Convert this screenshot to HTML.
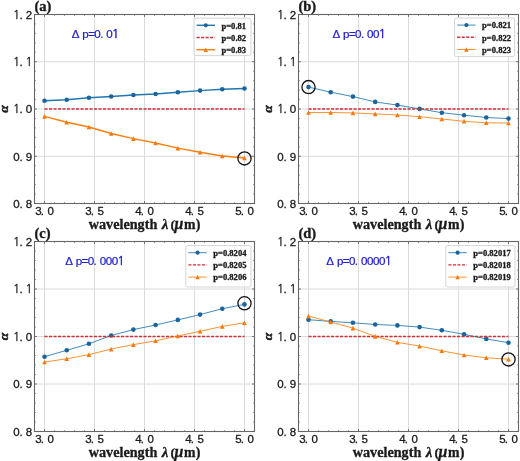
<!DOCTYPE html>
<html><head><meta charset="utf-8"><title>Figure</title>
<style>html,body{margin:0;padding:0;background:#fff;}svg{display:block;}</style>
</head><body>
<svg width="520" height="461" viewBox="0 0 520 461"><rect width="520" height="461" fill="#fff"/><g>
<path d="M44.50 14.50V203.50M94.50 14.50V203.50M144.50 14.50V203.50M194.50 14.50V203.50M244.50 14.50V203.50M34.50 156.25H254.50M34.50 109.00H254.50M34.50 61.75H254.50" stroke="#dadada" stroke-width="1" fill="none"/>
<polyline points="44.50,100.70 66.72,99.70 88.94,97.80 111.17,96.50 133.39,95.00 155.61,94.00 177.83,92.30 200.06,90.60 222.28,89.30 244.50,88.50" stroke="#1f77b4" stroke-width="1.45" fill="none" stroke-linejoin="round"/>
<g fill="#1c659c"><circle cx="44.50" cy="100.70" r="2.3"/><circle cx="66.72" cy="99.70" r="2.3"/><circle cx="88.94" cy="97.80" r="2.3"/><circle cx="111.17" cy="96.50" r="2.3"/><circle cx="133.39" cy="95.00" r="2.3"/><circle cx="155.61" cy="94.00" r="2.3"/><circle cx="177.83" cy="92.30" r="2.3"/><circle cx="200.06" cy="90.60" r="2.3"/><circle cx="222.28" cy="89.30" r="2.3"/><circle cx="244.50" cy="88.50" r="2.3"/></g>
<path d="M44.50 109.00H244.50" stroke="#d22f3b" stroke-width="1.3" stroke-dasharray="3.1 1.4" fill="none"/>
<polyline points="44.50,116.40 66.72,122.30 88.94,127.00 111.17,133.50 133.39,138.60 155.61,143.00 177.83,148.10 200.06,152.30 222.28,156.00 244.50,158.00" stroke="#ff7f0e" stroke-width="1.45" fill="none" stroke-linejoin="round"/>
<g fill="#f27a10"><path d="M44.50 114.10L42.20 118.70L46.80 118.70Z"/><path d="M66.72 120.00L64.42 124.60L69.02 124.60Z"/><path d="M88.94 124.70L86.64 129.30L91.24 129.30Z"/><path d="M111.17 131.20L108.87 135.80L113.47 135.80Z"/><path d="M133.39 136.30L131.09 140.90L135.69 140.90Z"/><path d="M155.61 140.70L153.31 145.30L157.91 145.30Z"/><path d="M177.83 145.80L175.53 150.40L180.13 150.40Z"/><path d="M200.06 150.00L197.76 154.60L202.36 154.60Z"/><path d="M222.28 153.70L219.98 158.30L224.58 158.30Z"/><path d="M244.50 155.70L242.20 160.30L246.80 160.30Z"/></g>
<circle cx="244.50" cy="158.40" r="6.6" fill="none" stroke="#141414" stroke-width="1.3"/>
<path d="M44.50 203.50v-2.40M44.50 14.50v2.40M94.50 203.50v-2.40M94.50 14.50v2.40M144.50 203.50v-2.40M144.50 14.50v2.40M194.50 203.50v-2.40M194.50 14.50v2.40M244.50 203.50v-2.40M244.50 14.50v2.40M34.50 203.50h2.40M254.50 203.50h-2.40M34.50 156.25h2.40M254.50 156.25h-2.40M34.50 109.00h2.40M254.50 109.00h-2.40M34.50 61.75h2.40M254.50 61.75h-2.40M34.50 14.50h2.40M254.50 14.50h-2.40" stroke="#666666" stroke-width="0.9" fill="none"/>
<path d="M34.50 203.50v-1.50M34.50 14.50v1.50M54.50 203.50v-1.50M54.50 14.50v1.50M64.50 203.50v-1.50M64.50 14.50v1.50M74.50 203.50v-1.50M74.50 14.50v1.50M84.50 203.50v-1.50M84.50 14.50v1.50M104.50 203.50v-1.50M104.50 14.50v1.50M114.50 203.50v-1.50M114.50 14.50v1.50M124.50 203.50v-1.50M124.50 14.50v1.50M134.50 203.50v-1.50M134.50 14.50v1.50M154.50 203.50v-1.50M154.50 14.50v1.50M164.50 203.50v-1.50M164.50 14.50v1.50M174.50 203.50v-1.50M174.50 14.50v1.50M184.50 203.50v-1.50M184.50 14.50v1.50M204.50 203.50v-1.50M204.50 14.50v1.50M214.50 203.50v-1.50M214.50 14.50v1.50M224.50 203.50v-1.50M224.50 14.50v1.50M234.50 203.50v-1.50M234.50 14.50v1.50M254.50 203.50v-1.50M254.50 14.50v1.50M34.50 194.05h1.50M254.50 194.05h-1.50M34.50 184.60h1.50M254.50 184.60h-1.50M34.50 175.15h1.50M254.50 175.15h-1.50M34.50 165.70h1.50M254.50 165.70h-1.50M34.50 146.80h1.50M254.50 146.80h-1.50M34.50 137.35h1.50M254.50 137.35h-1.50M34.50 127.90h1.50M254.50 127.90h-1.50M34.50 118.45h1.50M254.50 118.45h-1.50M34.50 99.55h1.50M254.50 99.55h-1.50M34.50 90.10h1.50M254.50 90.10h-1.50M34.50 80.65h1.50M254.50 80.65h-1.50M34.50 71.20h1.50M254.50 71.20h-1.50M34.50 52.30h1.50M254.50 52.30h-1.50M34.50 42.85h1.50M254.50 42.85h-1.50M34.50 33.40h1.50M254.50 33.40h-1.50M34.50 23.95h1.50M254.50 23.95h-1.50" stroke="#8a8a8a" stroke-width="0.8" fill="none"/>
<rect x="34.50" y="14.50" width="220.00" height="189.00" fill="none" stroke="#666666" stroke-width="1.1"/>
<rect x="194.00" y="18.20" width="57.00" height="37.40" rx="1.8" fill="#ffffff" fill-opacity="0.8" stroke="#d0d0d0" stroke-width="0.9"/>
<path d="M196.60 25.30H215.00" stroke="#1f77b4" stroke-width="1.45"/>
<circle cx="205.80" cy="25.30" r="2.1" fill="#1c659c"/>
<path d="M196.60 37.50H215.00" stroke="#d22f3b" stroke-width="1.4" stroke-dasharray="3.1 1.4"/>
<path d="M196.60 49.70H215.00" stroke="#ff7f0e" stroke-width="1.45"/>
<g fill="#f27a10"><path d="M205.80 47.50L203.60 51.90L208.00 51.90Z"/></g>
<text x="221.50" y="28.60" font-family="'Liberation Serif', 'Times New Roman', serif" font-size="9" font-weight="bold" fill="#1a1a1a" stroke="#1a1a1a" stroke-width="0.32" textLength="24.59" lengthAdjust="spacingAndGlyphs">p=0.81</text>
<text x="221.50" y="40.80" font-family="'Liberation Serif', 'Times New Roman', serif" font-size="9" font-weight="bold" fill="#1a1a1a" stroke="#1a1a1a" stroke-width="0.32" textLength="24.59" lengthAdjust="spacingAndGlyphs">p=0.82</text>
<text x="221.50" y="53.00" font-family="'Liberation Serif', 'Times New Roman', serif" font-size="9" font-weight="bold" fill="#1a1a1a" stroke="#1a1a1a" stroke-width="0.32" textLength="24.59" lengthAdjust="spacingAndGlyphs">p=0.83</text>
<text x="16.55 21.10 28.95" y="207.80" font-family="'Liberation Sans', Arial, sans-serif" font-size="11.5" fill="#1a1a1a" stroke="#1a1a1a" stroke-width="0.3" text-anchor="middle">0.8</text>
<text x="16.55 21.10 28.95" y="160.55" font-family="'Liberation Sans', Arial, sans-serif" font-size="11.5" fill="#1a1a1a" stroke="#1a1a1a" stroke-width="0.3" text-anchor="middle">0.9</text>
<text x="16.55 21.10 28.95" y="113.30" font-family="'Liberation Sans', Arial, sans-serif" font-size="11.5" fill="#1a1a1a" stroke="#1a1a1a" stroke-width="0.3" text-anchor="middle"><tspan font-family="NanumGothic, sans-serif" stroke-width="0.3">1</tspan>.0</text>
<text x="16.55 21.10 28.95" y="66.05" font-family="'Liberation Sans', Arial, sans-serif" font-size="11.5" fill="#1a1a1a" stroke="#1a1a1a" stroke-width="0.3" text-anchor="middle"><tspan font-family="NanumGothic, sans-serif" stroke-width="0.3">1</tspan>.<tspan font-family="NanumGothic, sans-serif" stroke-width="0.3">1</tspan></text>
<text x="16.55 21.10 28.95" y="18.80" font-family="'Liberation Sans', Arial, sans-serif" font-size="11.5" fill="#1a1a1a" stroke="#1a1a1a" stroke-width="0.3" text-anchor="middle"><tspan font-family="NanumGothic, sans-serif" stroke-width="0.3">1</tspan>.2</text>
<text x="38.40 42.45 50.60" y="214.70" font-family="'Liberation Sans', Arial, sans-serif" font-size="11.5" fill="#1a1a1a" stroke="#1a1a1a" stroke-width="0.3" text-anchor="middle">3.0</text>
<text x="88.40 92.45 100.60" y="214.70" font-family="'Liberation Sans', Arial, sans-serif" font-size="11.5" fill="#1a1a1a" stroke="#1a1a1a" stroke-width="0.3" text-anchor="middle">3.5</text>
<text x="138.40 142.45 150.60" y="214.70" font-family="'Liberation Sans', Arial, sans-serif" font-size="11.5" fill="#1a1a1a" stroke="#1a1a1a" stroke-width="0.3" text-anchor="middle">4.0</text>
<text x="188.40 192.45 200.60" y="214.70" font-family="'Liberation Sans', Arial, sans-serif" font-size="11.5" fill="#1a1a1a" stroke="#1a1a1a" stroke-width="0.3" text-anchor="middle">4.5</text>
<text x="238.40 242.45 250.60" y="214.70" font-family="'Liberation Sans', Arial, sans-serif" font-size="11.5" fill="#1a1a1a" stroke="#1a1a1a" stroke-width="0.3" text-anchor="middle">5.0</text>
<text x="75.60 85.55 91.55 97.55 101.75 109.55 115.55" y="37.80" font-family="'Liberation Sans', Arial, sans-serif" font-size="11.6" fill="#2020cc" stroke="#2020cc" stroke-width="0.22" text-anchor="middle">&#916;p=0.0<tspan font-family="NanumGothic, sans-serif" stroke-width="0.45">1</tspan></text>
<text x="34.40" y="10.70" font-family="'Liberation Serif', 'Times New Roman', serif" font-size="14.5" font-weight="bold" fill="#1a1a1a" stroke="#1a1a1a" stroke-width="0.35">(a)</text>
<text y="228.90" font-family="'Liberation Serif', 'Times New Roman', serif" font-weight="bold" fill="#1a1a1a" stroke="#1a1a1a" stroke-width="0.3"><tspan x="88.75" font-size="14.2">wavelength</tspan><tspan x="161.70" font-style="italic" font-size="15">&#955;</tspan><tspan x="170.60" font-size="13.5">(</tspan><tspan x="174.40" font-style="italic" font-size="16">&#956;</tspan><tspan x="184.00" font-size="13.8">m</tspan><tspan x="195.80" font-size="14">)</tspan></text>
<text transform="translate(8.30 109.00) rotate(-90)" font-family="'Liberation Serif', 'Times New Roman', serif" font-size="13.4" font-weight="bold" font-style="italic" fill="#1a1a1a" stroke="#1a1a1a" stroke-width="0.45" text-anchor="middle">&#945;</text>
</g>
<g>
<path d="M308.50 14.50V203.50M358.50 14.50V203.50M408.50 14.50V203.50M458.50 14.50V203.50M508.50 14.50V203.50M298.50 156.25H518.50M298.50 109.00H518.50M298.50 61.75H518.50" stroke="#dadada" stroke-width="1" fill="none"/>
<polyline points="308.50,87.10 330.72,92.20 352.94,96.60 375.17,101.90 397.39,105.10 419.61,108.90 441.83,112.70 464.06,115.20 486.28,117.50 508.50,118.60" stroke="#1f77b4" stroke-width="0.85" fill="none" stroke-linejoin="round"/>
<g fill="#1c659c"><circle cx="308.50" cy="87.10" r="2.3"/><circle cx="330.72" cy="92.20" r="2.3"/><circle cx="352.94" cy="96.60" r="2.3"/><circle cx="375.17" cy="101.90" r="2.3"/><circle cx="397.39" cy="105.10" r="2.3"/><circle cx="419.61" cy="108.90" r="2.3"/><circle cx="441.83" cy="112.70" r="2.3"/><circle cx="464.06" cy="115.20" r="2.3"/><circle cx="486.28" cy="117.50" r="2.3"/><circle cx="508.50" cy="118.60" r="2.3"/></g>
<path d="M308.50 109.00H508.50" stroke="#d22f3b" stroke-width="1.3" stroke-dasharray="3.1 1.4" fill="none"/>
<polyline points="308.50,112.50 330.72,112.50 352.94,112.90 375.17,113.90 397.39,115.00 419.61,116.70 441.83,119.00 464.06,121.30 486.28,122.80 508.50,123.00" stroke="#ff7f0e" stroke-width="0.85" fill="none" stroke-linejoin="round"/>
<g fill="#f27a10"><path d="M308.50 110.20L306.20 114.80L310.80 114.80Z"/><path d="M330.72 110.20L328.42 114.80L333.02 114.80Z"/><path d="M352.94 110.60L350.64 115.20L355.24 115.20Z"/><path d="M375.17 111.60L372.87 116.20L377.47 116.20Z"/><path d="M397.39 112.70L395.09 117.30L399.69 117.30Z"/><path d="M419.61 114.40L417.31 119.00L421.91 119.00Z"/><path d="M441.83 116.70L439.53 121.30L444.13 121.30Z"/><path d="M464.06 119.00L461.76 123.60L466.36 123.60Z"/><path d="M486.28 120.50L483.98 125.10L488.58 125.10Z"/><path d="M508.50 120.70L506.20 125.30L510.80 125.30Z"/></g>
<circle cx="308.50" cy="87.10" r="6.6" fill="none" stroke="#141414" stroke-width="1.3"/>
<path d="M308.50 203.50v-2.40M308.50 14.50v2.40M358.50 203.50v-2.40M358.50 14.50v2.40M408.50 203.50v-2.40M408.50 14.50v2.40M458.50 203.50v-2.40M458.50 14.50v2.40M508.50 203.50v-2.40M508.50 14.50v2.40M298.50 203.50h2.40M518.50 203.50h-2.40M298.50 156.25h2.40M518.50 156.25h-2.40M298.50 109.00h2.40M518.50 109.00h-2.40M298.50 61.75h2.40M518.50 61.75h-2.40M298.50 14.50h2.40M518.50 14.50h-2.40" stroke="#666666" stroke-width="0.9" fill="none"/>
<path d="M298.50 203.50v-1.50M298.50 14.50v1.50M318.50 203.50v-1.50M318.50 14.50v1.50M328.50 203.50v-1.50M328.50 14.50v1.50M338.50 203.50v-1.50M338.50 14.50v1.50M348.50 203.50v-1.50M348.50 14.50v1.50M368.50 203.50v-1.50M368.50 14.50v1.50M378.50 203.50v-1.50M378.50 14.50v1.50M388.50 203.50v-1.50M388.50 14.50v1.50M398.50 203.50v-1.50M398.50 14.50v1.50M418.50 203.50v-1.50M418.50 14.50v1.50M428.50 203.50v-1.50M428.50 14.50v1.50M438.50 203.50v-1.50M438.50 14.50v1.50M448.50 203.50v-1.50M448.50 14.50v1.50M468.50 203.50v-1.50M468.50 14.50v1.50M478.50 203.50v-1.50M478.50 14.50v1.50M488.50 203.50v-1.50M488.50 14.50v1.50M498.50 203.50v-1.50M498.50 14.50v1.50M518.50 203.50v-1.50M518.50 14.50v1.50M298.50 194.05h1.50M518.50 194.05h-1.50M298.50 184.60h1.50M518.50 184.60h-1.50M298.50 175.15h1.50M518.50 175.15h-1.50M298.50 165.70h1.50M518.50 165.70h-1.50M298.50 146.80h1.50M518.50 146.80h-1.50M298.50 137.35h1.50M518.50 137.35h-1.50M298.50 127.90h1.50M518.50 127.90h-1.50M298.50 118.45h1.50M518.50 118.45h-1.50M298.50 99.55h1.50M518.50 99.55h-1.50M298.50 90.10h1.50M518.50 90.10h-1.50M298.50 80.65h1.50M518.50 80.65h-1.50M298.50 71.20h1.50M518.50 71.20h-1.50M298.50 52.30h1.50M518.50 52.30h-1.50M298.50 42.85h1.50M518.50 42.85h-1.50M298.50 33.40h1.50M518.50 33.40h-1.50M298.50 23.95h1.50M518.50 23.95h-1.50" stroke="#8a8a8a" stroke-width="0.8" fill="none"/>
<rect x="298.50" y="14.50" width="220.00" height="189.00" fill="none" stroke="#666666" stroke-width="1.1"/>
<rect x="454.60" y="18.00" width="60.00" height="38.60" rx="1.8" fill="#ffffff" fill-opacity="0.8" stroke="#d0d0d0" stroke-width="0.9"/>
<path d="M457.20 25.10H475.60" stroke="#1f77b4" stroke-width="0.85"/>
<circle cx="466.40" cy="25.10" r="2.1" fill="#1c659c"/>
<path d="M457.20 37.30H475.60" stroke="#d22f3b" stroke-width="1.4" stroke-dasharray="3.1 1.4"/>
<path d="M457.20 49.50H475.60" stroke="#ff7f0e" stroke-width="0.85"/>
<g fill="#f27a10"><path d="M466.40 47.30L464.20 51.70L468.60 51.70Z"/></g>
<text x="482.10" y="28.40" font-family="'Liberation Serif', 'Times New Roman', serif" font-size="9" font-weight="bold" fill="#1a1a1a" stroke="#1a1a1a" stroke-width="0.32" textLength="28.86" lengthAdjust="spacingAndGlyphs">p=0.821</text>
<text x="482.10" y="40.60" font-family="'Liberation Serif', 'Times New Roman', serif" font-size="9" font-weight="bold" fill="#1a1a1a" stroke="#1a1a1a" stroke-width="0.32" textLength="28.86" lengthAdjust="spacingAndGlyphs">p=0.822</text>
<text x="482.10" y="52.80" font-family="'Liberation Serif', 'Times New Roman', serif" font-size="9" font-weight="bold" fill="#1a1a1a" stroke="#1a1a1a" stroke-width="0.32" textLength="28.86" lengthAdjust="spacingAndGlyphs">p=0.823</text>
<text x="280.55 285.10 292.95" y="207.80" font-family="'Liberation Sans', Arial, sans-serif" font-size="11.5" fill="#1a1a1a" stroke="#1a1a1a" stroke-width="0.3" text-anchor="middle">0.8</text>
<text x="280.55 285.10 292.95" y="160.55" font-family="'Liberation Sans', Arial, sans-serif" font-size="11.5" fill="#1a1a1a" stroke="#1a1a1a" stroke-width="0.3" text-anchor="middle">0.9</text>
<text x="280.55 285.10 292.95" y="113.30" font-family="'Liberation Sans', Arial, sans-serif" font-size="11.5" fill="#1a1a1a" stroke="#1a1a1a" stroke-width="0.3" text-anchor="middle"><tspan font-family="NanumGothic, sans-serif" stroke-width="0.3">1</tspan>.0</text>
<text x="280.55 285.10 292.95" y="66.05" font-family="'Liberation Sans', Arial, sans-serif" font-size="11.5" fill="#1a1a1a" stroke="#1a1a1a" stroke-width="0.3" text-anchor="middle"><tspan font-family="NanumGothic, sans-serif" stroke-width="0.3">1</tspan>.<tspan font-family="NanumGothic, sans-serif" stroke-width="0.3">1</tspan></text>
<text x="280.55 285.10 292.95" y="18.80" font-family="'Liberation Sans', Arial, sans-serif" font-size="11.5" fill="#1a1a1a" stroke="#1a1a1a" stroke-width="0.3" text-anchor="middle"><tspan font-family="NanumGothic, sans-serif" stroke-width="0.3">1</tspan>.2</text>
<text x="302.40 306.45 314.60" y="214.70" font-family="'Liberation Sans', Arial, sans-serif" font-size="11.5" fill="#1a1a1a" stroke="#1a1a1a" stroke-width="0.3" text-anchor="middle">3.0</text>
<text x="352.40 356.45 364.60" y="214.70" font-family="'Liberation Sans', Arial, sans-serif" font-size="11.5" fill="#1a1a1a" stroke="#1a1a1a" stroke-width="0.3" text-anchor="middle">3.5</text>
<text x="402.40 406.45 414.60" y="214.70" font-family="'Liberation Sans', Arial, sans-serif" font-size="11.5" fill="#1a1a1a" stroke="#1a1a1a" stroke-width="0.3" text-anchor="middle">4.0</text>
<text x="452.40 456.45 464.60" y="214.70" font-family="'Liberation Sans', Arial, sans-serif" font-size="11.5" fill="#1a1a1a" stroke="#1a1a1a" stroke-width="0.3" text-anchor="middle">4.5</text>
<text x="502.40 506.45 514.60" y="214.70" font-family="'Liberation Sans', Arial, sans-serif" font-size="11.5" fill="#1a1a1a" stroke="#1a1a1a" stroke-width="0.3" text-anchor="middle">5.0</text>
<text x="336.40 346.35 352.35 358.35 362.55 370.35 376.35 382.35" y="38.00" font-family="'Liberation Sans', Arial, sans-serif" font-size="11.6" fill="#2020cc" stroke="#2020cc" stroke-width="0.22" text-anchor="middle">&#916;p=0.00<tspan font-family="NanumGothic, sans-serif" stroke-width="0.45">1</tspan></text>
<text x="298.40" y="10.70" font-family="'Liberation Serif', 'Times New Roman', serif" font-size="14.5" font-weight="bold" fill="#1a1a1a" stroke="#1a1a1a" stroke-width="0.35">(b)</text>
<text y="228.90" font-family="'Liberation Serif', 'Times New Roman', serif" font-weight="bold" fill="#1a1a1a" stroke="#1a1a1a" stroke-width="0.3"><tspan x="352.75" font-size="14.2">wavelength</tspan><tspan x="425.70" font-style="italic" font-size="15">&#955;</tspan><tspan x="434.60" font-size="13.5">(</tspan><tspan x="438.40" font-style="italic" font-size="16">&#956;</tspan><tspan x="448.00" font-size="13.8">m</tspan><tspan x="459.80" font-size="14">)</tspan></text>
<text transform="translate(272.30 109.00) rotate(-90)" font-family="'Liberation Serif', 'Times New Roman', serif" font-size="13.4" font-weight="bold" font-style="italic" fill="#1a1a1a" stroke="#1a1a1a" stroke-width="0.45" text-anchor="middle">&#945;</text>
</g>
<g>
<path d="M44.50 241.50V431.50M94.50 241.50V431.50M144.50 241.50V431.50M194.50 241.50V431.50M244.50 241.50V431.50M34.50 384.00H254.50M34.50 336.50H254.50M34.50 289.00H254.50" stroke="#dadada" stroke-width="1" fill="none"/>
<polyline points="44.50,356.70 66.72,350.30 88.94,343.80 111.17,335.50 133.39,329.60 155.61,325.00 177.83,319.90 200.06,314.60 222.28,308.70 244.50,304.40" stroke="#1f77b4" stroke-width="0.85" fill="none" stroke-linejoin="round"/>
<g fill="#1c659c"><circle cx="44.50" cy="356.70" r="2.3"/><circle cx="66.72" cy="350.30" r="2.3"/><circle cx="88.94" cy="343.80" r="2.3"/><circle cx="111.17" cy="335.50" r="2.3"/><circle cx="133.39" cy="329.60" r="2.3"/><circle cx="155.61" cy="325.00" r="2.3"/><circle cx="177.83" cy="319.90" r="2.3"/><circle cx="200.06" cy="314.60" r="2.3"/><circle cx="222.28" cy="308.70" r="2.3"/><circle cx="244.50" cy="304.40" r="2.3"/></g>
<path d="M44.50 336.50H244.50" stroke="#d22f3b" stroke-width="1.3" stroke-dasharray="3.1 1.4" fill="none"/>
<polyline points="44.50,362.00 66.72,358.80 88.94,354.60 111.17,349.10 133.39,344.60 155.61,340.80 177.83,336.00 200.06,331.30 222.28,326.40 244.50,322.80" stroke="#ff7f0e" stroke-width="0.85" fill="none" stroke-linejoin="round"/>
<g fill="#f27a10"><path d="M44.50 359.70L42.20 364.30L46.80 364.30Z"/><path d="M66.72 356.50L64.42 361.10L69.02 361.10Z"/><path d="M88.94 352.30L86.64 356.90L91.24 356.90Z"/><path d="M111.17 346.80L108.87 351.40L113.47 351.40Z"/><path d="M133.39 342.30L131.09 346.90L135.69 346.90Z"/><path d="M155.61 338.50L153.31 343.10L157.91 343.10Z"/><path d="M177.83 333.70L175.53 338.30L180.13 338.30Z"/><path d="M200.06 329.00L197.76 333.60L202.36 333.60Z"/><path d="M222.28 324.10L219.98 328.70L224.58 328.70Z"/><path d="M244.50 320.50L242.20 325.10L246.80 325.10Z"/></g>
<circle cx="244.50" cy="303.30" r="6.6" fill="none" stroke="#141414" stroke-width="1.3"/>
<path d="M44.50 431.50v-2.40M44.50 241.50v2.40M94.50 431.50v-2.40M94.50 241.50v2.40M144.50 431.50v-2.40M144.50 241.50v2.40M194.50 431.50v-2.40M194.50 241.50v2.40M244.50 431.50v-2.40M244.50 241.50v2.40M34.50 431.50h2.40M254.50 431.50h-2.40M34.50 384.00h2.40M254.50 384.00h-2.40M34.50 336.50h2.40M254.50 336.50h-2.40M34.50 289.00h2.40M254.50 289.00h-2.40M34.50 241.50h2.40M254.50 241.50h-2.40" stroke="#666666" stroke-width="0.9" fill="none"/>
<path d="M34.50 431.50v-1.50M34.50 241.50v1.50M54.50 431.50v-1.50M54.50 241.50v1.50M64.50 431.50v-1.50M64.50 241.50v1.50M74.50 431.50v-1.50M74.50 241.50v1.50M84.50 431.50v-1.50M84.50 241.50v1.50M104.50 431.50v-1.50M104.50 241.50v1.50M114.50 431.50v-1.50M114.50 241.50v1.50M124.50 431.50v-1.50M124.50 241.50v1.50M134.50 431.50v-1.50M134.50 241.50v1.50M154.50 431.50v-1.50M154.50 241.50v1.50M164.50 431.50v-1.50M164.50 241.50v1.50M174.50 431.50v-1.50M174.50 241.50v1.50M184.50 431.50v-1.50M184.50 241.50v1.50M204.50 431.50v-1.50M204.50 241.50v1.50M214.50 431.50v-1.50M214.50 241.50v1.50M224.50 431.50v-1.50M224.50 241.50v1.50M234.50 431.50v-1.50M234.50 241.50v1.50M254.50 431.50v-1.50M254.50 241.50v1.50M34.50 422.00h1.50M254.50 422.00h-1.50M34.50 412.50h1.50M254.50 412.50h-1.50M34.50 403.00h1.50M254.50 403.00h-1.50M34.50 393.50h1.50M254.50 393.50h-1.50M34.50 374.50h1.50M254.50 374.50h-1.50M34.50 365.00h1.50M254.50 365.00h-1.50M34.50 355.50h1.50M254.50 355.50h-1.50M34.50 346.00h1.50M254.50 346.00h-1.50M34.50 327.00h1.50M254.50 327.00h-1.50M34.50 317.50h1.50M254.50 317.50h-1.50M34.50 308.00h1.50M254.50 308.00h-1.50M34.50 298.50h1.50M254.50 298.50h-1.50M34.50 279.50h1.50M254.50 279.50h-1.50M34.50 270.00h1.50M254.50 270.00h-1.50M34.50 260.50h1.50M254.50 260.50h-1.50M34.50 251.00h1.50M254.50 251.00h-1.50" stroke="#8a8a8a" stroke-width="0.8" fill="none"/>
<rect x="34.50" y="241.50" width="220.00" height="190.00" fill="none" stroke="#666666" stroke-width="1.1"/>
<rect x="185.80" y="245.60" width="65.20" height="41.40" rx="1.8" fill="#ffffff" fill-opacity="0.8" stroke="#d0d0d0" stroke-width="0.9"/>
<path d="M188.40 252.70H206.80" stroke="#1f77b4" stroke-width="0.85"/>
<circle cx="197.60" cy="252.70" r="2.1" fill="#1c659c"/>
<path d="M188.40 264.90H206.80" stroke="#d22f3b" stroke-width="1.4" stroke-dasharray="3.1 1.4"/>
<path d="M188.40 277.10H206.80" stroke="#ff7f0e" stroke-width="0.85"/>
<g fill="#f27a10"><path d="M197.60 274.90L195.40 279.30L199.80 279.30Z"/></g>
<text x="213.30" y="256.00" font-family="'Liberation Serif', 'Times New Roman', serif" font-size="9" font-weight="bold" fill="#1a1a1a" stroke="#1a1a1a" stroke-width="0.32" textLength="33.14" lengthAdjust="spacingAndGlyphs">p=0.8204</text>
<text x="213.30" y="268.20" font-family="'Liberation Serif', 'Times New Roman', serif" font-size="9" font-weight="bold" fill="#1a1a1a" stroke="#1a1a1a" stroke-width="0.32" textLength="33.14" lengthAdjust="spacingAndGlyphs">p=0.8205</text>
<text x="213.30" y="280.40" font-family="'Liberation Serif', 'Times New Roman', serif" font-size="9" font-weight="bold" fill="#1a1a1a" stroke="#1a1a1a" stroke-width="0.32" textLength="33.14" lengthAdjust="spacingAndGlyphs">p=0.8206</text>
<text x="16.55 21.10 28.95" y="435.80" font-family="'Liberation Sans', Arial, sans-serif" font-size="11.5" fill="#1a1a1a" stroke="#1a1a1a" stroke-width="0.3" text-anchor="middle">0.8</text>
<text x="16.55 21.10 28.95" y="388.30" font-family="'Liberation Sans', Arial, sans-serif" font-size="11.5" fill="#1a1a1a" stroke="#1a1a1a" stroke-width="0.3" text-anchor="middle">0.9</text>
<text x="16.55 21.10 28.95" y="340.80" font-family="'Liberation Sans', Arial, sans-serif" font-size="11.5" fill="#1a1a1a" stroke="#1a1a1a" stroke-width="0.3" text-anchor="middle"><tspan font-family="NanumGothic, sans-serif" stroke-width="0.3">1</tspan>.0</text>
<text x="16.55 21.10 28.95" y="293.30" font-family="'Liberation Sans', Arial, sans-serif" font-size="11.5" fill="#1a1a1a" stroke="#1a1a1a" stroke-width="0.3" text-anchor="middle"><tspan font-family="NanumGothic, sans-serif" stroke-width="0.3">1</tspan>.<tspan font-family="NanumGothic, sans-serif" stroke-width="0.3">1</tspan></text>
<text x="16.55 21.10 28.95" y="245.80" font-family="'Liberation Sans', Arial, sans-serif" font-size="11.5" fill="#1a1a1a" stroke="#1a1a1a" stroke-width="0.3" text-anchor="middle"><tspan font-family="NanumGothic, sans-serif" stroke-width="0.3">1</tspan>.2</text>
<text x="38.40 42.45 50.60" y="442.70" font-family="'Liberation Sans', Arial, sans-serif" font-size="11.5" fill="#1a1a1a" stroke="#1a1a1a" stroke-width="0.3" text-anchor="middle">3.0</text>
<text x="88.40 92.45 100.60" y="442.70" font-family="'Liberation Sans', Arial, sans-serif" font-size="11.5" fill="#1a1a1a" stroke="#1a1a1a" stroke-width="0.3" text-anchor="middle">3.5</text>
<text x="138.40 142.45 150.60" y="442.70" font-family="'Liberation Sans', Arial, sans-serif" font-size="11.5" fill="#1a1a1a" stroke="#1a1a1a" stroke-width="0.3" text-anchor="middle">4.0</text>
<text x="188.40 192.45 200.60" y="442.70" font-family="'Liberation Sans', Arial, sans-serif" font-size="11.5" fill="#1a1a1a" stroke="#1a1a1a" stroke-width="0.3" text-anchor="middle">4.5</text>
<text x="238.40 242.45 250.60" y="442.70" font-family="'Liberation Sans', Arial, sans-serif" font-size="11.5" fill="#1a1a1a" stroke="#1a1a1a" stroke-width="0.3" text-anchor="middle">5.0</text>
<text x="69.00 78.95 84.95 90.95 95.15 102.95 108.95 114.95 120.95" y="264.50" font-family="'Liberation Sans', Arial, sans-serif" font-size="11.6" fill="#2020cc" stroke="#2020cc" stroke-width="0.22" text-anchor="middle">&#916;p=0.000<tspan font-family="NanumGothic, sans-serif" stroke-width="0.45">1</tspan></text>
<text x="34.40" y="237.70" font-family="'Liberation Serif', 'Times New Roman', serif" font-size="14.5" font-weight="bold" fill="#1a1a1a" stroke="#1a1a1a" stroke-width="0.35">(c)</text>
<text y="456.90" font-family="'Liberation Serif', 'Times New Roman', serif" font-weight="bold" fill="#1a1a1a" stroke="#1a1a1a" stroke-width="0.3"><tspan x="88.75" font-size="14.2">wavelength</tspan><tspan x="161.70" font-style="italic" font-size="15">&#955;</tspan><tspan x="170.60" font-size="13.5">(</tspan><tspan x="174.40" font-style="italic" font-size="16">&#956;</tspan><tspan x="184.00" font-size="13.8">m</tspan><tspan x="195.80" font-size="14">)</tspan></text>
<text transform="translate(8.30 336.50) rotate(-90)" font-family="'Liberation Serif', 'Times New Roman', serif" font-size="13.4" font-weight="bold" font-style="italic" fill="#1a1a1a" stroke="#1a1a1a" stroke-width="0.45" text-anchor="middle">&#945;</text>
</g>
<g>
<path d="M308.50 241.50V431.50M358.50 241.50V431.50M408.50 241.50V431.50M458.50 241.50V431.50M508.50 241.50V431.50M298.50 384.00H518.50M298.50 336.50H518.50M298.50 289.00H518.50" stroke="#dadada" stroke-width="1" fill="none"/>
<polyline points="308.50,319.70 330.72,321.40 352.94,322.80 375.17,324.50 397.39,325.40 419.61,327.10 441.83,330.30 464.06,334.30 486.28,338.90 508.50,342.70" stroke="#1f77b4" stroke-width="0.85" fill="none" stroke-linejoin="round"/>
<g fill="#1c659c"><circle cx="308.50" cy="319.70" r="2.3"/><circle cx="330.72" cy="321.40" r="2.3"/><circle cx="352.94" cy="322.80" r="2.3"/><circle cx="375.17" cy="324.50" r="2.3"/><circle cx="397.39" cy="325.40" r="2.3"/><circle cx="419.61" cy="327.10" r="2.3"/><circle cx="441.83" cy="330.30" r="2.3"/><circle cx="464.06" cy="334.30" r="2.3"/><circle cx="486.28" cy="338.90" r="2.3"/><circle cx="508.50" cy="342.70" r="2.3"/></g>
<path d="M308.50 336.50H508.50" stroke="#d22f3b" stroke-width="1.3" stroke-dasharray="3.1 1.4" fill="none"/>
<polyline points="308.50,316.10 330.72,322.00 352.94,328.10 375.17,336.40 397.39,342.30 419.61,346.10 441.83,350.80 464.06,355.00 486.28,357.80 508.50,359.20" stroke="#ff7f0e" stroke-width="0.85" fill="none" stroke-linejoin="round"/>
<g fill="#f27a10"><path d="M308.50 313.80L306.20 318.40L310.80 318.40Z"/><path d="M330.72 319.70L328.42 324.30L333.02 324.30Z"/><path d="M352.94 325.80L350.64 330.40L355.24 330.40Z"/><path d="M375.17 334.10L372.87 338.70L377.47 338.70Z"/><path d="M397.39 340.00L395.09 344.60L399.69 344.60Z"/><path d="M419.61 343.80L417.31 348.40L421.91 348.40Z"/><path d="M441.83 348.50L439.53 353.10L444.13 353.10Z"/><path d="M464.06 352.70L461.76 357.30L466.36 357.30Z"/><path d="M486.28 355.50L483.98 360.10L488.58 360.10Z"/><path d="M508.50 356.90L506.20 361.50L510.80 361.50Z"/></g>
<circle cx="508.50" cy="359.40" r="6.6" fill="none" stroke="#141414" stroke-width="1.3"/>
<path d="M308.50 431.50v-2.40M308.50 241.50v2.40M358.50 431.50v-2.40M358.50 241.50v2.40M408.50 431.50v-2.40M408.50 241.50v2.40M458.50 431.50v-2.40M458.50 241.50v2.40M508.50 431.50v-2.40M508.50 241.50v2.40M298.50 431.50h2.40M518.50 431.50h-2.40M298.50 384.00h2.40M518.50 384.00h-2.40M298.50 336.50h2.40M518.50 336.50h-2.40M298.50 289.00h2.40M518.50 289.00h-2.40M298.50 241.50h2.40M518.50 241.50h-2.40" stroke="#666666" stroke-width="0.9" fill="none"/>
<path d="M298.50 431.50v-1.50M298.50 241.50v1.50M318.50 431.50v-1.50M318.50 241.50v1.50M328.50 431.50v-1.50M328.50 241.50v1.50M338.50 431.50v-1.50M338.50 241.50v1.50M348.50 431.50v-1.50M348.50 241.50v1.50M368.50 431.50v-1.50M368.50 241.50v1.50M378.50 431.50v-1.50M378.50 241.50v1.50M388.50 431.50v-1.50M388.50 241.50v1.50M398.50 431.50v-1.50M398.50 241.50v1.50M418.50 431.50v-1.50M418.50 241.50v1.50M428.50 431.50v-1.50M428.50 241.50v1.50M438.50 431.50v-1.50M438.50 241.50v1.50M448.50 431.50v-1.50M448.50 241.50v1.50M468.50 431.50v-1.50M468.50 241.50v1.50M478.50 431.50v-1.50M478.50 241.50v1.50M488.50 431.50v-1.50M488.50 241.50v1.50M498.50 431.50v-1.50M498.50 241.50v1.50M518.50 431.50v-1.50M518.50 241.50v1.50M298.50 422.00h1.50M518.50 422.00h-1.50M298.50 412.50h1.50M518.50 412.50h-1.50M298.50 403.00h1.50M518.50 403.00h-1.50M298.50 393.50h1.50M518.50 393.50h-1.50M298.50 374.50h1.50M518.50 374.50h-1.50M298.50 365.00h1.50M518.50 365.00h-1.50M298.50 355.50h1.50M518.50 355.50h-1.50M298.50 346.00h1.50M518.50 346.00h-1.50M298.50 327.00h1.50M518.50 327.00h-1.50M298.50 317.50h1.50M518.50 317.50h-1.50M298.50 308.00h1.50M518.50 308.00h-1.50M298.50 298.50h1.50M518.50 298.50h-1.50M298.50 279.50h1.50M518.50 279.50h-1.50M298.50 270.00h1.50M518.50 270.00h-1.50M298.50 260.50h1.50M518.50 260.50h-1.50M298.50 251.00h1.50M518.50 251.00h-1.50" stroke="#8a8a8a" stroke-width="0.8" fill="none"/>
<rect x="298.50" y="241.50" width="220.00" height="190.00" fill="none" stroke="#666666" stroke-width="1.1"/>
<rect x="445.80" y="245.60" width="69.20" height="41.40" rx="1.8" fill="#ffffff" fill-opacity="0.8" stroke="#d0d0d0" stroke-width="0.9"/>
<path d="M448.40 252.70H466.80" stroke="#1f77b4" stroke-width="0.85"/>
<circle cx="457.60" cy="252.70" r="2.1" fill="#1c659c"/>
<path d="M448.40 264.90H466.80" stroke="#d22f3b" stroke-width="1.4" stroke-dasharray="3.1 1.4"/>
<path d="M448.40 277.10H466.80" stroke="#ff7f0e" stroke-width="0.85"/>
<g fill="#f27a10"><path d="M457.60 274.90L455.40 279.30L459.80 279.30Z"/></g>
<text x="473.30" y="256.00" font-family="'Liberation Serif', 'Times New Roman', serif" font-size="9" font-weight="bold" fill="#1a1a1a" stroke="#1a1a1a" stroke-width="0.32" textLength="37.41" lengthAdjust="spacingAndGlyphs">p=0.82017</text>
<text x="473.30" y="268.20" font-family="'Liberation Serif', 'Times New Roman', serif" font-size="9" font-weight="bold" fill="#1a1a1a" stroke="#1a1a1a" stroke-width="0.32" textLength="37.41" lengthAdjust="spacingAndGlyphs">p=0.82018</text>
<text x="473.30" y="280.40" font-family="'Liberation Serif', 'Times New Roman', serif" font-size="9" font-weight="bold" fill="#1a1a1a" stroke="#1a1a1a" stroke-width="0.32" textLength="37.41" lengthAdjust="spacingAndGlyphs">p=0.82019</text>
<text x="280.55 285.10 292.95" y="435.80" font-family="'Liberation Sans', Arial, sans-serif" font-size="11.5" fill="#1a1a1a" stroke="#1a1a1a" stroke-width="0.3" text-anchor="middle">0.8</text>
<text x="280.55 285.10 292.95" y="388.30" font-family="'Liberation Sans', Arial, sans-serif" font-size="11.5" fill="#1a1a1a" stroke="#1a1a1a" stroke-width="0.3" text-anchor="middle">0.9</text>
<text x="280.55 285.10 292.95" y="340.80" font-family="'Liberation Sans', Arial, sans-serif" font-size="11.5" fill="#1a1a1a" stroke="#1a1a1a" stroke-width="0.3" text-anchor="middle"><tspan font-family="NanumGothic, sans-serif" stroke-width="0.3">1</tspan>.0</text>
<text x="280.55 285.10 292.95" y="293.30" font-family="'Liberation Sans', Arial, sans-serif" font-size="11.5" fill="#1a1a1a" stroke="#1a1a1a" stroke-width="0.3" text-anchor="middle"><tspan font-family="NanumGothic, sans-serif" stroke-width="0.3">1</tspan>.<tspan font-family="NanumGothic, sans-serif" stroke-width="0.3">1</tspan></text>
<text x="280.55 285.10 292.95" y="245.80" font-family="'Liberation Sans', Arial, sans-serif" font-size="11.5" fill="#1a1a1a" stroke="#1a1a1a" stroke-width="0.3" text-anchor="middle"><tspan font-family="NanumGothic, sans-serif" stroke-width="0.3">1</tspan>.2</text>
<text x="302.40 306.45 314.60" y="442.70" font-family="'Liberation Sans', Arial, sans-serif" font-size="11.5" fill="#1a1a1a" stroke="#1a1a1a" stroke-width="0.3" text-anchor="middle">3.0</text>
<text x="352.40 356.45 364.60" y="442.70" font-family="'Liberation Sans', Arial, sans-serif" font-size="11.5" fill="#1a1a1a" stroke="#1a1a1a" stroke-width="0.3" text-anchor="middle">3.5</text>
<text x="402.40 406.45 414.60" y="442.70" font-family="'Liberation Sans', Arial, sans-serif" font-size="11.5" fill="#1a1a1a" stroke="#1a1a1a" stroke-width="0.3" text-anchor="middle">4.0</text>
<text x="452.40 456.45 464.60" y="442.70" font-family="'Liberation Sans', Arial, sans-serif" font-size="11.5" fill="#1a1a1a" stroke="#1a1a1a" stroke-width="0.3" text-anchor="middle">4.5</text>
<text x="502.40 506.45 514.60" y="442.70" font-family="'Liberation Sans', Arial, sans-serif" font-size="11.5" fill="#1a1a1a" stroke="#1a1a1a" stroke-width="0.3" text-anchor="middle">5.0</text>
<text x="330.20 340.15 346.15 352.15 356.35 364.15 370.15 376.15 382.15 388.15" y="264.50" font-family="'Liberation Sans', Arial, sans-serif" font-size="11.6" fill="#2020cc" stroke="#2020cc" stroke-width="0.22" text-anchor="middle">&#916;p=0.0000<tspan font-family="NanumGothic, sans-serif" stroke-width="0.45">1</tspan></text>
<text x="298.40" y="237.70" font-family="'Liberation Serif', 'Times New Roman', serif" font-size="14.5" font-weight="bold" fill="#1a1a1a" stroke="#1a1a1a" stroke-width="0.35">(d)</text>
<text y="456.90" font-family="'Liberation Serif', 'Times New Roman', serif" font-weight="bold" fill="#1a1a1a" stroke="#1a1a1a" stroke-width="0.3"><tspan x="352.75" font-size="14.2">wavelength</tspan><tspan x="425.70" font-style="italic" font-size="15">&#955;</tspan><tspan x="434.60" font-size="13.5">(</tspan><tspan x="438.40" font-style="italic" font-size="16">&#956;</tspan><tspan x="448.00" font-size="13.8">m</tspan><tspan x="459.80" font-size="14">)</tspan></text>
<text transform="translate(272.30 336.50) rotate(-90)" font-family="'Liberation Serif', 'Times New Roman', serif" font-size="13.4" font-weight="bold" font-style="italic" fill="#1a1a1a" stroke="#1a1a1a" stroke-width="0.45" text-anchor="middle">&#945;</text>
</g></svg>
</body></html>
